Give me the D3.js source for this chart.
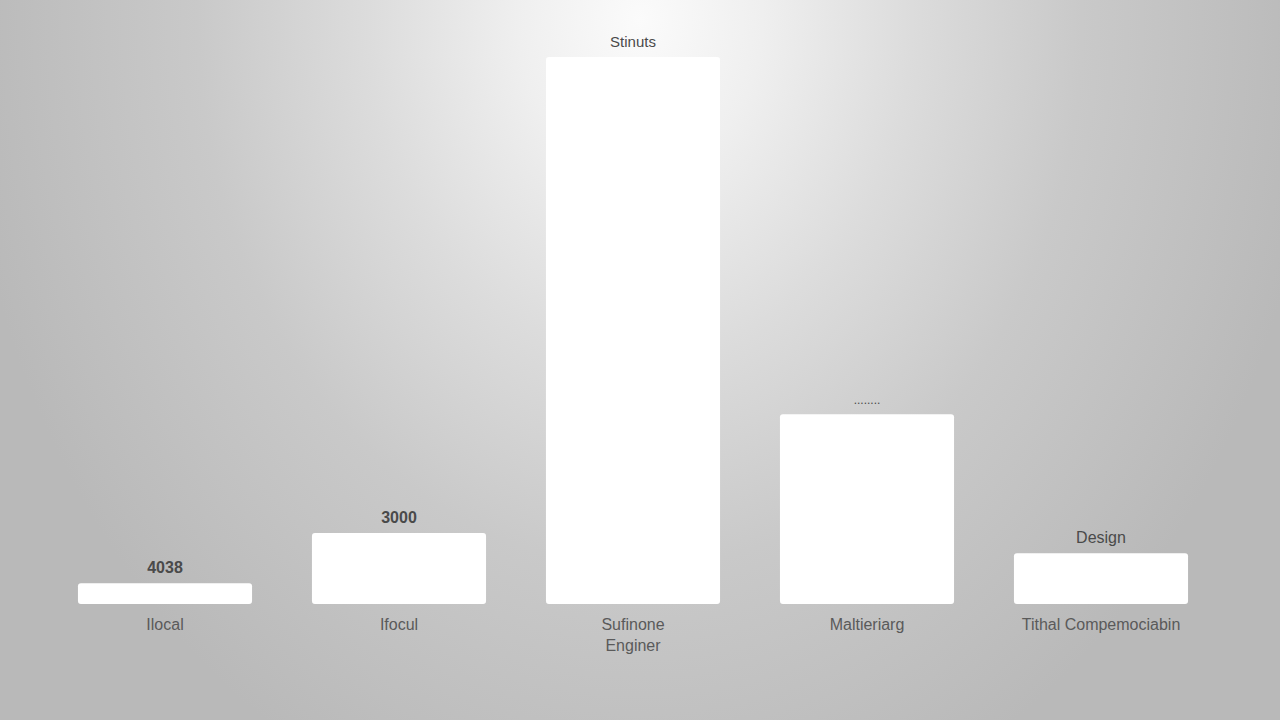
<!DOCTYPE html>
<html>
<head>
<meta charset="utf-8">
<script src="https://cdn.jsdelivr.net/npm/d3@7"></script>
<style>
html,body{margin:0;padding:0;width:1280px;height:720px;overflow:hidden;background:#c0c0c0;}
svg{display:block;}
</style>
</head>
<body>
<svg id="chart" width="1280" height="720"></svg>
<script>
const categories = ["Ilocal", "Ifocul", "Sufinone\nEnginer", "Maltieriarg", "Tithal Compemociabin"];
const values = [3.8, 13, 100, 34.7, 9.3];
const valueLabels = ["4038", "3000", "Stinuts", "........", "Design"];

const W = 1280, H = 720;
const svg = d3.select("#chart");

const defs = svg.append("defs");
const grad = defs.append("radialGradient").attr("id", "bg")
  .attr("gradientUnits", "userSpaceOnUse")
  .attr("cx", 640).attr("cy", 20).attr("r", 800)
  .attr("gradientTransform", "translate(640,20) scale(0.85,1.05) translate(-640,-20)");
[[0, "#fbfbfb"], [0.18, "#efefef"], [0.4, "#dcdcdc"], [0.65, "#c9c9c9"], [1, "#b9b9b9"]]
  .forEach(([o, c]) => grad.append("stop").attr("offset", o).attr("stop-color", c));

svg.append("rect").attr("width", W).attr("height", H).attr("fill", "url(#bg)");

const x = d3.scaleBand().domain(categories).range([48, 1218])
  .paddingInner(0.256).paddingOuter(0.128);
const y = d3.scaleLinear().domain([0, 100]).range([604, 57]);

const g = svg.append("g");

g.selectAll("rect.bar").data(categories).join("rect")
  .attr("class", "bar")
  .attr("x", d => x(d))
  .attr("y", (d, i) => y(values[i]))
  .attr("width", x.bandwidth())
  .attr("height", (d, i) => y(0) - y(values[i]))
  .attr("rx", 3)
  .attr("fill", "#ffffff");

g.selectAll("text.val").data(categories).join("text")
  .attr("class", "val")
  .attr("x", d => x(d) + x.bandwidth() / 2)
  .attr("y", (d, i) => y(values[i]) - 10)
  .attr("text-anchor", "middle")
  .attr("font-family", "Liberation Sans, Arial, sans-serif")
  .attr("font-size", (d, i) => i === 3 ? 12 : (i === 2 ? 15 : 16))
  .attr("font-weight", (d, i) => (i < 2) ? "bold" : "normal")
  .attr("fill", "#4a4a4a")
  .text((d, i) => valueLabels[i]);

const xAxis = d3.axisBottom(x).tickSize(0).tickPadding(0);
const ax = svg.append("g").attr("transform", "translate(0,604)").call(xAxis);
ax.select(".domain").remove();
ax.selectAll("text").remove();
ax.selectAll(".tick").each(function(d) {
  const t = d3.select(this).append("text")
    .attr("text-anchor", "middle")
    .attr("font-family", "Liberation Sans, Arial, sans-serif")
    .attr("font-size", 16)
    .attr("fill", "#5a5a5a");
  d.split("\n").forEach((line, j) => {
    t.append("tspan").attr("x", 0).attr("y", 26 + j * 21).text(line);
  });
});
</script>
</body>
</html>
